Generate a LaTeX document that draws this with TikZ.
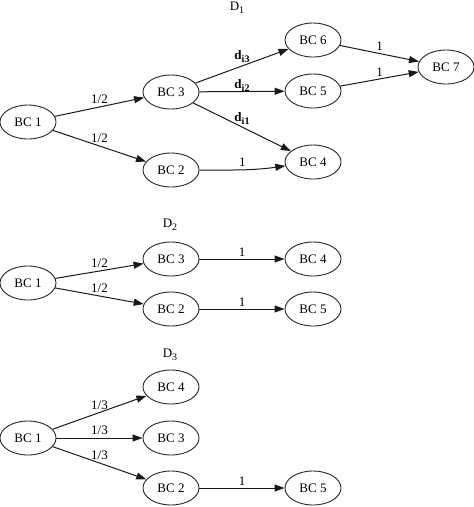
\documentclass[tikz,border=0pt]{standalone}
\usepackage{fontspec}
\setmainfont{Liberation Serif}
\usetikzlibrary{shapes.geometric,arrows.meta}
\newcommand{\mysubtxt}[1]{\raisebox{-3pt}{\fontsize{10}{12}\selectfont #1}}
\begin{document}
\begin{tikzpicture}[x=1pt,y=1pt,
  bc/.style={draw=black!85,ellipse,line width=0.9pt,minimum width=56pt,minimum height=34pt,inner sep=0pt,font=\fontsize{13}{15}\selectfont},
  conn/.style={draw=black!90,line width=1pt,-{Triangle[length=10pt,width=7pt]}},
  lab/.style={midway,above,inner sep=2.5pt,font=\fontsize{13}{15}\selectfont},
  ttl/.style={anchor=base,inner sep=0pt,font=\fontsize{13}{15}\selectfont}]
\useasboundingbox (0,0) rectangle (474,-507);
% D1
\node[ttl] (t1) at (237,-10) {D\mysubtxt{1}};
\node[bc] (a1) at (28,-122) {BC 1};
\node[bc] (a3) at (171,-92) {BC 3};
\node[bc] (a2) at (171,-170) {BC 2};
\node[bc] (a6) at (313,-40) {BC 6};
\node[bc] (a5) at (313,-91) {BC 5};
\node[bc] (a4) at (313,-162) {BC 4};
\node[bc] (a7) at (446,-67) {BC 7};
\draw[conn] (a1) -- node[lab] (la13) {1/2} (a3);
\draw[conn] (a1) -- node[lab] (la12) {1/2} (a2);
\draw[conn] (a3) -- node[lab,above=0pt] (la36) {\textbf{d}\mysubtxt{\textbf{i3}}} (a6);
\draw[conn] (a3) -- node[lab,above=-3pt] (la35) {\textbf{d}\mysubtxt{\textbf{i2}}} (a5);
\draw[conn] (a3) -- node[lab,above=0pt] (la34) {\textbf{d}\mysubtxt{\textbf{i1}}} (a4);
\draw[conn] (a2) to[out=0,in=188] node[lab] (la24) {1} (a4);
\draw[conn] (a6) -- node[lab] (la67) {1} (a7);
\draw[conn] (a5) -- node[lab] (la57) {1} (a7);
% D2
\node[ttl] (t2) at (170,-227) {D\mysubtxt{2}};
\node[bc] (b1) at (28,-283) {BC 1};
\node[bc] (b3) at (171,-259) {BC 3};
\node[bc] (b2) at (171,-309) {BC 2};
\node[bc] (b4) at (313,-259) {BC 4};
\node[bc] (b5) at (313,-309) {BC 5};
\draw[conn] (b1) -- node[lab] (lb13) {1/2} (b3);
\draw[conn] (b1) -- node[lab] (lb12) {1/2} (b2);
\draw[conn] (b3) -- node[lab] (lb34) {1} (b4);
\draw[conn] (b2) -- node[lab] (lb25) {1} (b5);
% D3
\node[ttl] (t3) at (170,-357) {D\mysubtxt{3}};
\node[bc] (c1) at (28,-438) {BC 1};
\node[bc] (c4) at (171,-387) {BC 4};
\node[bc] (c3) at (171,-438) {BC 3};
\node[bc] (c2) at (171,-488) {BC 2};
\node[bc] (c5) at (313,-488) {BC 5};
\draw[conn] (c1) -- node[lab] (lc14) {1/3} (c4);
\draw[conn] (c1) -- node[lab] (lc13) {1/3} (c3);
\draw[conn] (c1) -- node[lab] (lc12) {1/3} (c2);
\draw[conn] (c2) -- node[lab] (lc25) {1} (c5);
\end{tikzpicture}
\end{document}
